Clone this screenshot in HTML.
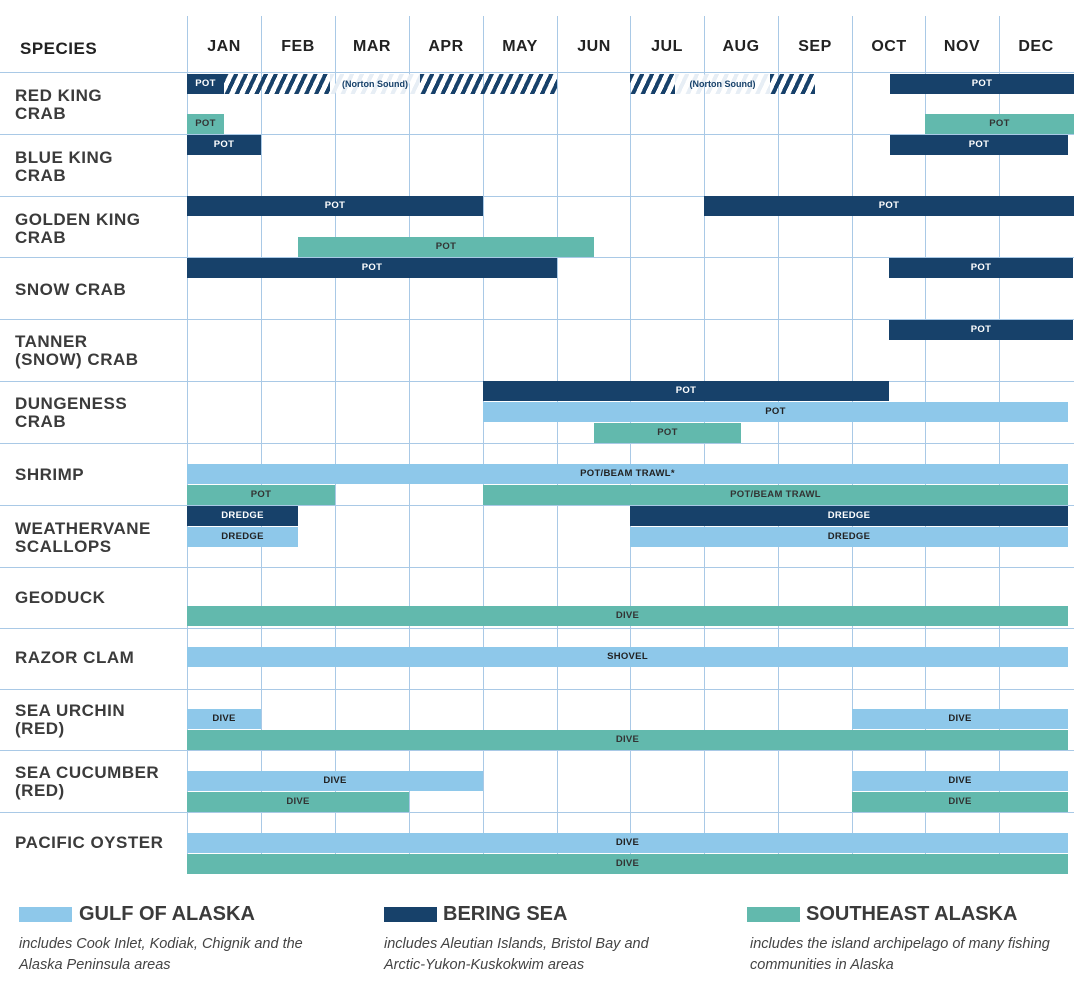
<!DOCTYPE html>
<html><head><meta charset="utf-8"><style>
body{margin:0;width:1084px;height:1000px;background:#fff;position:relative;overflow:hidden;font-family:"Liberation Sans",sans-serif;}
.v{position:absolute;top:16px;height:858px;width:1px;background:#a9c9e6;}
.h{position:absolute;left:0;width:1074px;height:1px;background:#a9c9e6;}
.m{position:absolute;top:38px;width:74px;text-align:center;font-weight:bold;font-size:16px;color:#222;letter-spacing:.5px}
.s{position:absolute;left:15px;font-weight:bold;font-size:17px;color:#3b3b3b;line-height:18px;letter-spacing:.5px}
.b{position:absolute;height:20px;font-size:9.5px;line-height:20px;text-align:center;color:#fff;letter-spacing:.3px;font-weight:600}
.d{background:#17416a}.l{background:#8ec8ea;color:#222}.g{background:#62b9ad;color:#333}
.hat{position:absolute;height:20px;top:74px;background:repeating-linear-gradient(115deg,#17416a 0 4px,transparent 4px 9px)}
.lh{position:absolute;height:20px;top:74px;background:repeating-linear-gradient(115deg,#e7eef5 0 4px,transparent 4px 9px);font-size:9px;line-height:20px;text-align:center;color:#17416a;font-weight:bold}
.sw{position:absolute;top:907px;width:53px;height:15px}
.lt{position:absolute;top:903px;font-weight:bold;font-size:20px;color:#3b3b3b}
.ld{position:absolute;top:934px;font-style:italic;font-size:14.5px;line-height:21px;color:#444}
</style></head><body>
<div class="v" style="left:187px"></div><div class="v" style="left:261px"></div><div class="v" style="left:335px"></div><div class="v" style="left:409px"></div><div class="v" style="left:483px"></div><div class="v" style="left:557px"></div><div class="v" style="left:630px"></div><div class="v" style="left:704px"></div><div class="v" style="left:778px"></div><div class="v" style="left:852px"></div><div class="v" style="left:925px"></div><div class="v" style="left:999px"></div>
<div class="h" style="top:72px"></div><div class="h" style="top:134px"></div><div class="h" style="top:196px"></div><div class="h" style="top:257px"></div><div class="h" style="top:319px"></div><div class="h" style="top:381px"></div><div class="h" style="top:443px"></div><div class="h" style="top:505px"></div><div class="h" style="top:567px"></div><div class="h" style="top:628px"></div><div class="h" style="top:689px"></div><div class="h" style="top:750px"></div><div class="h" style="top:812px"></div>
<div class="s" style="top:40px;left:20px;color:#222">SPECIES</div>
<div class="m" style="left:187px">JAN</div><div class="m" style="left:261px">FEB</div><div class="m" style="left:335px">MAR</div><div class="m" style="left:409px">APR</div><div class="m" style="left:483px">MAY</div><div class="m" style="left:557px">JUN</div><div class="m" style="left:630px">JUL</div><div class="m" style="left:704px">AUG</div><div class="m" style="left:778px">SEP</div><div class="m" style="left:852px">OCT</div><div class="m" style="left:925px">NOV</div><div class="m" style="left:999px">DEC</div>
<div class="s" style="top:87px">RED KING<br>CRAB</div>
<div class="s" style="top:149px">BLUE KING<br>CRAB</div>
<div class="s" style="top:211px">GOLDEN KING<br>CRAB</div>
<div class="s" style="top:281px">SNOW CRAB</div>
<div class="s" style="top:333px">TANNER<br>(SNOW) CRAB</div>
<div class="s" style="top:395px">DUNGENESS<br>CRAB</div>
<div class="s" style="top:466px">SHRIMP</div>
<div class="s" style="top:520px">WEATHERVANE<br>SCALLOPS</div>
<div class="s" style="top:589px">GEODUCK</div>
<div class="s" style="top:649px">RAZOR CLAM</div>
<div class="s" style="top:702px">SEA URCHIN<br>(RED)</div>
<div class="s" style="top:764px">SEA CUCUMBER<br>(RED)</div>
<div class="s" style="top:834px">PACIFIC OYSTER</div>

<div class="b d" style="left:187px;top:74px;width:37px">POT</div>
<div class="hat" style="left:224px;width:106px"></div>
<div class="lh" style="left:330px;width:90px">(Norton Sound)</div>
<div class="hat" style="left:420px;width:137px"></div>
<div class="hat" style="left:630px;width:45px"></div>
<div class="lh" style="left:675px;width:95px">(Norton Sound)</div>
<div class="hat" style="left:770px;width:45px"></div>
<div class="b d" style="left:890px;top:74px;width:184px">POT</div>
<div class="b g" style="left:187px;top:114px;width:37px">POT</div>
<div class="b g" style="left:925px;top:114px;width:149px">POT</div>
<div class="b d" style="left:187px;top:135px;width:74px">POT</div>
<div class="b d" style="left:890px;top:135px;width:178px">POT</div>
<div class="b d" style="left:187px;top:196px;width:296px">POT</div>
<div class="b d" style="left:704px;top:196px;width:370px">POT</div>
<div class="b g" style="left:298px;top:237px;width:296px">POT</div>
<div class="b d" style="left:187px;top:258px;width:370px">POT</div>
<div class="b d" style="left:889px;top:258px;width:184px">POT</div>
<div class="b d" style="left:889px;top:320px;width:184px">POT</div>
<div class="b d" style="left:483px;top:381px;width:406px">POT</div>
<div class="b l" style="left:483px;top:402px;width:585px">POT</div>
<div class="b g" style="left:594px;top:423px;width:147px">POT</div>
<div class="b l" style="left:187px;top:464px;width:881px">POT/BEAM TRAWL*</div>
<div class="b g" style="left:187px;top:485px;width:148px">POT</div>
<div class="b g" style="left:483px;top:485px;width:585px">POT/BEAM TRAWL</div>
<div class="b d" style="left:187px;top:506px;width:111px">DREDGE</div>
<div class="b d" style="left:630px;top:506px;width:438px">DREDGE</div>
<div class="b l" style="left:187px;top:527px;width:111px">DREDGE</div>
<div class="b l" style="left:630px;top:527px;width:438px">DREDGE</div>
<div class="b g" style="left:187px;top:606px;width:881px">DIVE</div>
<div class="b l" style="left:187px;top:647px;width:881px">SHOVEL</div>
<div class="b l" style="left:187px;top:709px;width:74px">DIVE</div>
<div class="b l" style="left:852px;top:709px;width:216px">DIVE</div>
<div class="b g" style="left:187px;top:730px;width:881px">DIVE</div>
<div class="b l" style="left:187px;top:771px;width:296px">DIVE</div>
<div class="b l" style="left:852px;top:771px;width:216px">DIVE</div>
<div class="b g" style="left:187px;top:792px;width:222px">DIVE</div>
<div class="b g" style="left:852px;top:792px;width:216px">DIVE</div>
<div class="b l" style="left:187px;top:833px;width:881px">DIVE</div>
<div class="b g" style="left:187px;top:854px;width:881px">DIVE</div>

<div class="sw" style="left:19px;background:#8ec8ea"></div><div class="lt" style="left:79px">GULF OF ALASKA</div>
<div class="ld" style="left:19px">includes Cook Inlet, Kodiak, Chignik and the<br>Alaska Peninsula areas</div>
<div class="sw" style="left:384px;background:#17416a"></div><div class="lt" style="left:443px">BERING SEA</div>
<div class="ld" style="left:384px">includes Aleutian Islands, Bristol Bay and<br>Arctic-Yukon-Kuskokwim areas</div>
<div class="sw" style="left:747px;background:#62b9ad"></div><div class="lt" style="left:806px">SOUTHEAST ALASKA</div>
<div class="ld" style="left:750px">includes the island archipelago of many fishing<br>communities in Alaska</div>
</body></html>
